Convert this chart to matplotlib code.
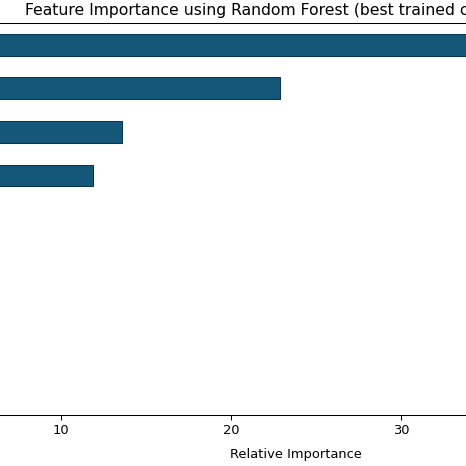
import numpy as np
import matplotlib
matplotlib.use("Agg")
import matplotlib.pyplot as plt

# feature importances, largest at the top (bottom five fall left of the visible crop)
features = ["f1", "f2", "f3", "f4", "f5", "f6", "f7", "f8", "f9"]
importance = [43.5, 22.9, 13.6, 11.9, 5.6, 4.2, 2.8, 1.6, 0.8]

W = 466
DPI = 94
fig = plt.figure(figsize=(W / DPI, W / DPI), dpi=DPI)

# the picture is a crop of a wider figure: axes run off the left and right edges
left_px, right_px = -109, 701
bottom_px, top_px = 51, 443
ax = fig.add_axes([left_px / W, bottom_px / W,
                   (right_px - left_px) / W, (top_px - bottom_px) / W])

y = np.arange(len(features))[::-1]
ax.barh(y, importance, height=0.5, color="#155778", edgecolor="#0b3550", linewidth=0.8)

ax.set_xlim(0, (right_px - left_px) / 17.0)
ax.set_ylim(-0.5, len(features) - 0.5)
ax.set_yticks(y)
ax.set_yticklabels(features)
ax.set_xticks([0, 10, 20, 30, 40])

ax.set_xlabel("Relative Importance", labelpad=8)
ax.set_title("Feature Importance using Random Forest (best trained classifier)",
             loc="left", x=(25 - left_px) / (right_px - left_px))

fig.savefig("out.png", dpi=DPI)
